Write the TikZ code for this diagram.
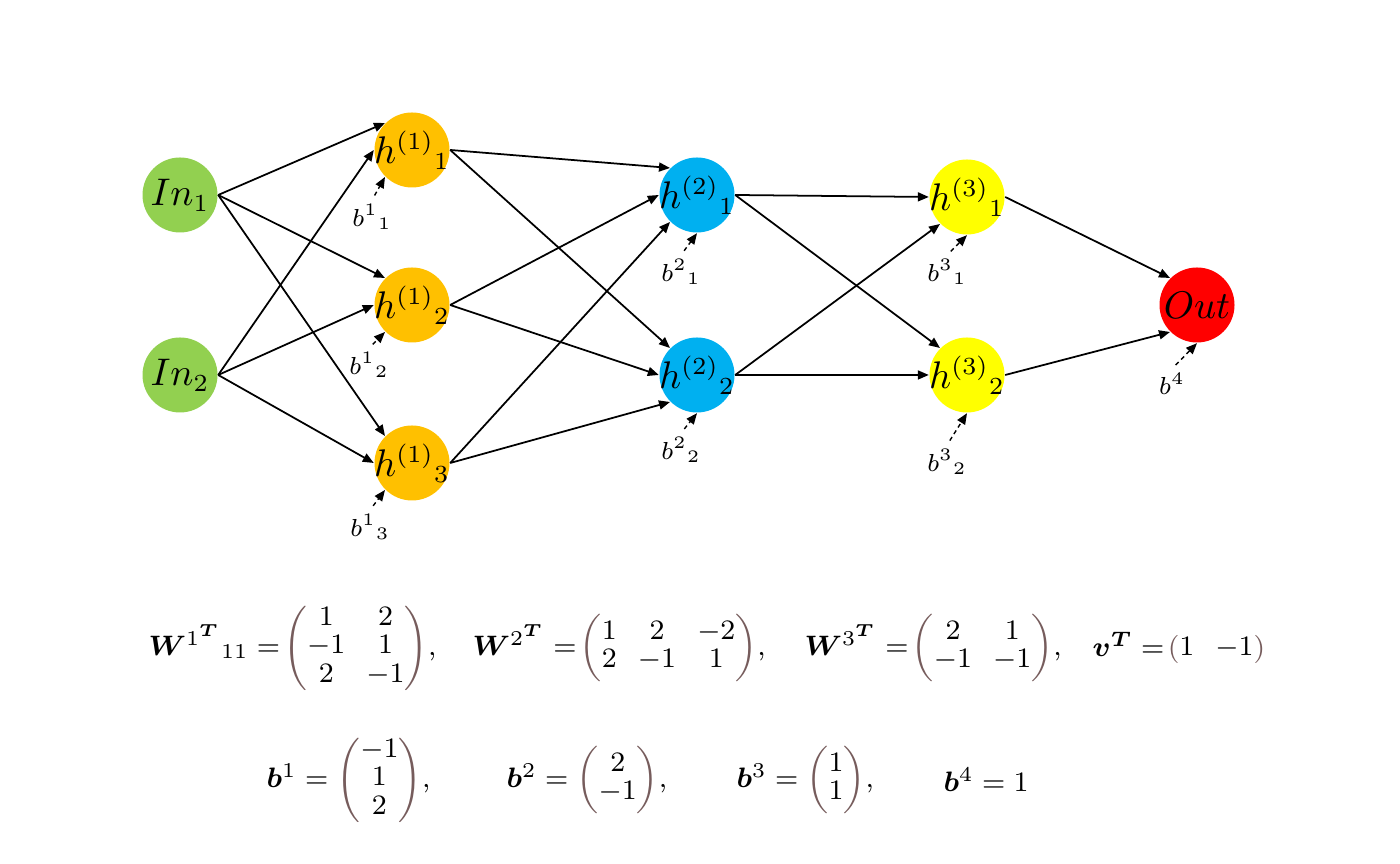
\documentclass[tikz,border=0pt]{standalone}
\usepackage{amsmath,amssymb}
\usepackage{bm}
\usepackage{tikz}
\usetikzlibrary{arrows.meta,positioning,calc}
\definecolor{ingreen}{RGB}{146,208,80}
\definecolor{hidorange}{RGB}{255,192,0}
\definecolor{hidblue}{RGB}{0,176,240}
\definecolor{hidyellow}{RGB}{255,255,0}
\definecolor{outred}{RGB}{255,0,0}
\definecolor{parbrown}{RGB}{118,92,92}
\newcommand{\brmat}[1]{{\color{parbrown}\left(\color{black}\begin{matrix}#1\end{matrix}\color{parbrown}\right)}}
\renewcommand{\arraystretch}{0.85}
\setlength{\arraycolsep}{3pt}

\begin{document}
\begin{tikzpicture}[
    neuron/.style={circle, minimum size=0.75cm, inner sep=0pt},
    nlabel/.style={font=\fontsize{10.5}{12.5}\selectfont, inner sep=0pt},
    link/.style={-{Triangle[length=1.1mm,width=0.9mm]}, line width=0.5pt},
    bias/.style={-{Triangle[length=1.1mm,width=0.9mm]}, dash pattern=on 1.2pt off 1pt, line width=0.4pt, shorten <=1.5pt},
    blabel/.style={font=\fontsize{7.5}{9}\selectfont, inner sep=1pt},
    formula/.style={anchor=west, inner sep=0pt, font=\fontsize{8}{9.5}\selectfont}
]
    \useasboundingbox (0,0) rectangle (14,8.64);

    % input layer
    \node[neuron, fill=ingreen, label={[nlabel]center:$In_1$}] (in1) at (1.80,6.69) {};
    \node[neuron, fill=ingreen, label={[nlabel]center:$In_2$}] (in2) at (1.80,4.89) {};

    % hidden layers
    \node[neuron, fill=hidorange, label={[nlabel]center:$h^{(1)}{}_1$}] (h11) at (4.12,7.14) {};
    \node[neuron, fill=hidorange, label={[nlabel]center:$h^{(1)}{}_2$}] (h12) at (4.12,5.59) {};
    \node[neuron, fill=hidorange, label={[nlabel]center:$h^{(1)}{}_3$}] (h13) at (4.12,4.01) {};
    \node[neuron, fill=hidblue, label={[nlabel]center:$h^{(2)}{}_1$}] (h21) at (6.97,6.69) {};
    \node[neuron, fill=hidblue, label={[nlabel]center:$h^{(2)}{}_2$}] (h22) at (6.97,4.89) {};
    \node[neuron, fill=hidyellow, label={[nlabel]center:$h^{(3)}{}_1$}] (h31) at (9.67,6.67) {};
    \node[neuron, fill=hidyellow, label={[nlabel]center:$h^{(3)}{}_2$}] (h32) at (9.67,4.89) {};

    % output
    \node[neuron, fill=outred, label={[nlabel]center:$Out$}] (out) at (11.97,5.59) {};

    % weights
    \foreach \t in {h11,h12,h13} {
        \draw[link] (in1.east) -- (\t.north west);
        \draw[link] (in2.east) -- (\t.west);
    }
    \foreach \t in {h21,h22} {
        \draw[link] (h11.east) -- (\t.north west);
        \draw[link] (h12.east) -- (\t.west);
        \draw[link] (h13.east) -- (\t.south west);
    }
    \draw[link] (h21.east) -- (h31.west);
    \draw[link] (h22.east) -- (h31.south west);
    \draw[link] (h21.east) -- (h32.north west);
    \draw[link] (h22.east) -- (h32.west);
    \draw[link] (h31.east) -- (out.north west);
    \draw[link] (h32.east) -- (out.south west);

    % biases
    \node[blabel] (b11) at (3.72,6.47) {$b^{1}{}_{1}$};
    \node[blabel] (b12) at (3.69,4.99) {$b^{1}{}_{2}$};
    \node[blabel] (b13) at (3.70,3.37) {$b^{1}{}_{3}$};
    \node[blabel] (b21) at (6.81,5.92) {$b^{2}{}_{1}$};
    \node[blabel] (b22) at (6.81,4.14) {$b^{2}{}_{2}$};
    \node[blabel] (b31) at (9.47,5.92) {$b^{3}{}_{1}$};
    \node[blabel] (b32) at (9.47,4.02) {$b^{3}{}_{2}$};
    \node[blabel] (b4) at (11.72,4.80) {$b^{4}$};
    \foreach \b/\n in {b11/h11,b12/h12,b13/h13}
        {\draw[bias] (\b.north) -- (\n.south west);}
    \foreach \b/\n in {b21/h21,b22/h22,b31/h31,b32/h32,b4/out}
        {\draw[bias] (\b.north) -- (\n.south);}

    % parameters
    \node[formula] (w1) at (1.48,2.16) {${\bm{W}^{1^{\bm{T}}}}_{11} =\! \brmat{1 & 2\\ -1 & 1\\ 2 & -1},$};
    \node[formula] (w2) at (4.72,2.16) {$\bm{W}^{2^{\bm{T}}} =\! \brmat{1 & 2 & -2\\ 2 & -1 & 1},$};
    \node[formula] (w3) at (8.04,2.16) {$\bm{W}^{3^{\bm{T}}} =\! \brmat{2 & 1\\ -1 & -1},$};
    \node[formula] (vt) at (10.92,2.16) {$\bm{v}^{\bm{T}} =\! \brmat{1 & -1}$};
    \node[formula] (bv1) at (2.66,0.84) {$\bm{b}^{1} = \brmat{-1\\ 1\\ 2},$};
    \node[formula] (bv2) at (5.06,0.84) {$\bm{b}^{2} = \brmat{2\\ -1},$};
    \node[formula] (bv3) at (7.36,0.84) {$\bm{b}^{3} = \brmat{1\\ 1},$};
    \node[formula] (bv4) at (9.43,0.84) {$\bm{b}^{4} = 1$};
\end{tikzpicture}
\end{document}
